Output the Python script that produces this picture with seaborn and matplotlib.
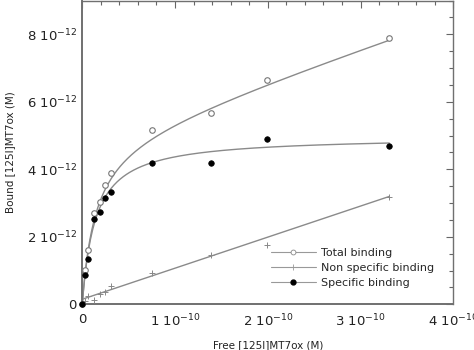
import numpy as np
import pandas as pd
import matplotlib
matplotlib.use("Agg")
import matplotlib.pyplot as plt
import seaborn as sns
from matplotlib.ticker import MultipleLocator, FixedLocator
from matplotlib.lines import Line2D

# Data (free ligand in units of 1e-10 M, bound in 1e-12 M)
free = [0, 0.031, 0.059, 0.13, 0.192, 0.25, 0.31, 0.755, 1.39, 1.99, 3.31]
total = [0, 1.01, 1.61, 2.70, 3.04, 3.53, 3.88, 5.17, 5.68, 6.64, 7.89]
nonspecific = [0, 0.10, 0.25, 0.13, 0.30, 0.35, 0.54, 0.93, 1.47, 1.75, 3.18]
specific = [0, 0.88, 1.34, 2.54, 2.74, 3.14, 3.32, 4.20, 4.19, 4.89, 4.70]

# Fit parameters (one-site saturation + linear nonspecific)
bmax = 4.98
kd = 0.14
ns_slope = 0.92
ns_intercept = 0.15

x_ticks = [0, 1, 2, 3, 4]
x_labels = ["0", r"1 10$^{-10}$", r"2 10$^{-10}$", r"3 10$^{-10}$", r"4 10$^{-10}$"]
y_ticks = [0, 2, 4, 6, 8]
y_labels = ["0", r"2 10$^{-12}$", r"4 10$^{-12}$", r"6 10$^{-12}$", r"8 10$^{-12}$"]

sns.set_theme(style="white")
plt.rcParams['font.family'] = ['DejaVu Sans']
plt.rcParams['mathtext.fontset'] = 'dejavusans'

fig = plt.figure(figsize=(4.74, 3.5), dpi=100)
ax = fig.add_axes([0.1736, 0.1306, 0.9563 - 0.1736, 0.9985 - 0.1306])

xf = np.linspace(0, max(free), 300)
spec_fit = bmax * xf / (kd + xf)
tot_fit = spec_fit + ns_slope * xf
ns_fit = ns_intercept + ns_slope * xf
fits = pd.DataFrame({"x": xf, "spec": spec_fit, "tot": tot_fit, "ns": ns_fit})

line_col = "#8a8a8a"
sns.lineplot(data=fits, x="x", y="tot", ax=ax, color=line_col, lw=1.0)
sns.lineplot(data=fits, x="x", y="spec", ax=ax, color=line_col, lw=1.0)
sns.lineplot(data=fits, x="x", y="ns", ax=ax, color=line_col, lw=1.0)

df = pd.DataFrame({"free": free, "total": total, "ns": nonspecific, "spec": specific})
sns.scatterplot(data=df, x="free", y="total", ax=ax, marker="o", s=16,
                facecolor="white", edgecolor="#777777", linewidth=0.8, zorder=3, clip_on=False)
sns.scatterplot(data=df, x="free", y="ns", ax=ax, marker="+", s=14,
                color="#888888", linewidth=0.7, zorder=3, clip_on=False)
sns.scatterplot(data=df, x="free", y="spec", ax=ax, marker="o", s=16,
                color="black", edgecolor="black", linewidth=0.5, zorder=4, clip_on=False)

ax.set_xlim(0, 4)
ax.set_ylim(0, 9)
ax.xaxis.set_major_locator(FixedLocator(x_ticks))
ax.set_xticklabels(x_labels)
ax.yaxis.set_major_locator(FixedLocator(y_ticks))
ax.set_yticklabels(y_labels)
ax.xaxis.set_minor_locator(MultipleLocator(0.2))
ax.yaxis.set_minor_locator(MultipleLocator(0.5))
ax.tick_params(axis="both", which="both", direction="in", top=True, right=True,
               color="#666666", labelsize=9.5, labelcolor="#222222")
ax.tick_params(axis="both", which="major", length=5, width=0.8)
ax.tick_params(axis="both", which="minor", length=3, width=0.8)
ax.tick_params(axis="x", which="major", pad=6)
ax.tick_params(axis="y", which="major", pad=4)
ax.tick_params(top=True, right=True, labeltop=False, labelright=False)

for side in ["left", "bottom"]:
    ax.spines[side].set_color("#707070")
    ax.spines[side].set_linewidth(1.4)
for side in ["top", "right"]:
    ax.spines[side].set_color("#707070")
    ax.spines[side].set_linewidth(1.0)

ax.set_xlabel("Free [125I]MT7ox (M)", fontsize=7.5, color="#222222", labelpad=8)
ax.set_ylabel("Bound [125I]MT7ox (M)", fontsize=7.5, color="#222222", labelpad=8)

handles = [
    Line2D([], [], color="#999999", lw=0.8, marker="o", markersize=3.5,
           markerfacecolor="white", markeredgecolor="#888888", markeredgewidth=0.6),
    Line2D([], [], color="#999999", lw=0.8, marker="+", markersize=4, markeredgewidth=0.6),
    Line2D([], [], color="#999999", lw=0.8, marker="o", markersize=3.5,
           markerfacecolor="black", markeredgecolor="black"),
]
ax.legend(handles, ["Total binding", "Non specific binding", "Specific binding"],
          loc="lower right", bbox_to_anchor=(0.962, 0.035), frameon=False, fontsize=8.0,
          handlelength=4.0, handletextpad=0.45, labelspacing=0.45, borderpad=0.0)

fig.savefig("out.png", dpi=100)
